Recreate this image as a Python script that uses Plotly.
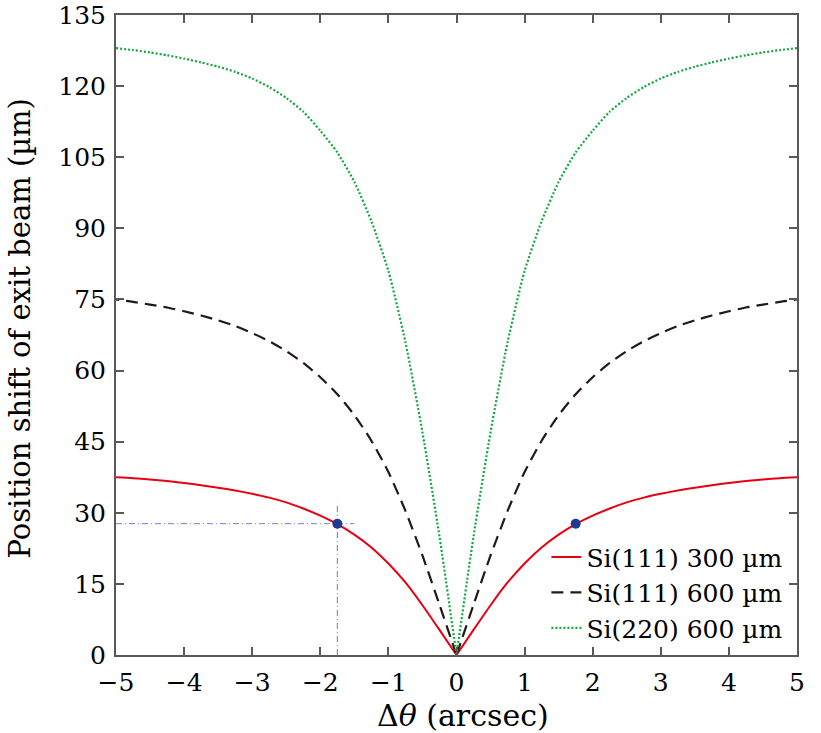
import plotly.graph_objects as go

# Read values (x >= 0 half and x <= 0 half), Δθ in arcsec, shift in µm
x_right = [0, 0.25, 0.5, 0.75, 1.0, 1.25, 1.5, 1.75, 2.0, 2.25, 2.5, 2.75, 3.0, 3.25, 3.5, 3.75, 4.0, 4.25, 4.5, 4.75, 5.0]
x_left = [0, -0.25, -0.5, -0.75, -1.0, -1.25, -1.5, -1.75, -2.0, -2.25, -2.5, -2.75, -3.0, -3.25, -3.5, -3.75, -4.0, -4.25, -4.5, -4.75, -5.0]

si111_300 = [0, 5.3, 10.5, 15.3, 19.3, 22.7, 25.4, 27.6, 29.4, 30.9, 32.2, 33.2, 34.0, 34.7, 35.3, 35.8, 36.3, 36.7, 37.0, 37.3, 37.5]
si111_600 = [0, 10.6, 21.0, 30.4, 38.6, 45.2, 50.6, 55.0, 58.6, 61.6, 64.1, 66.2, 67.9, 69.4, 70.6, 71.6, 72.5, 73.3, 73.9, 74.5, 75.0]
si220_600 = [0, 25.0, 47.0, 66.0, 81.0, 91.5, 99.8, 106.0, 110.6, 114.6, 117.5, 119.8, 121.6, 123.0, 124.1, 125.0, 125.8, 126.5, 127.1, 127.6, 128.0]

marker_x = [-1.75, 1.75]
marker_y = [27.7, 27.7]

guide_h_x = [-5, -1.5]
guide_h_y = [27.7, 27.7]
guide_v_x = [-1.75, -1.75]
guide_v_y = [0, 32.1]

x_ticks = [-5, -4, -3, -2, -1, 0, 1, 2, 3, 4, 5]
x_ticktext = ["\u22125", "\u22124", "\u22123", "\u22122", "\u22121", "0", "1", "2", "3", "4", "5"]
y_ticks = [0, 15, 30, 45, 60, 75, 90, 105, 120, 135]

x_title = "\u0394<i>\u03b8</i> (arcsec)"
y_title = "Position shift of exit beam (\u00b5m)"

names = ["Si(111) 300 \u00b5m", "Si(111) 600 \u00b5m", "Si(220) 600 \u00b5m"]
series = [si111_300, si111_600, si220_600]
colors = ["#e60012", "#231815", "#11a83a"]
dashes = ["solid", "12px,7px", "2px,2px"]
widths = [2.0, 2.2, 2.2]

FONT = "DejaVu Serif"

fig = go.Figure()

fig.add_trace(go.Scatter(x=guide_h_x, y=guide_h_y, mode="lines", showlegend=False,
                         line=dict(color="rgba(70,90,200,0.75)", width=1, dash="6px,3px,1px,3px")))
fig.add_trace(go.Scatter(x=guide_v_x, y=guide_v_y, mode="lines", showlegend=False,
                         line=dict(color="rgba(90,100,170,0.85)", width=1, dash="6px,3px,1px,3px")))

for name, ys, c, d, w in zip(names, series, colors, dashes, widths):
    fig.add_trace(go.Scatter(x=x_right, y=ys, mode="lines", name=name, showlegend=True,
                             line=dict(color=c, width=w, dash=d, shape="spline", smoothing=0.6)))
    fig.add_trace(go.Scatter(x=x_left, y=ys, mode="lines", name=name, showlegend=False,
                             line=dict(color=c, width=w, dash=d, shape="spline", smoothing=0.6)))

fig.add_trace(go.Scatter(x=marker_x, y=marker_y, mode="markers", showlegend=False,
                         marker=dict(color="#1f3a93", size=10)))

axis_common = dict(
    showgrid=False, zeroline=False, showline=True, linecolor="#595959", linewidth=2,
    mirror="allticks", ticks="inside", ticklen=8, tickwidth=1.6, tickcolor="#595959",
    tickfont=dict(family=FONT, size=25, color="black"), ticklabeloverflow="allow",
)

fig.update_layout(
    width=821, height=733,
    margin=dict(l=116, r=24, t=15, b=78, autoexpand=False),
    paper_bgcolor="white", plot_bgcolor="white",
    font=dict(family=FONT, color="black"),
    xaxis=dict(range=[-5, 5], tickvals=x_ticks, ticktext=x_ticktext, ticklabelstandoff=4, **axis_common),
    yaxis=dict(range=[0, 135], tickvals=y_ticks, ticklabelstandoff=3, **axis_common),
    legend=dict(x=0.632, y=0.006, xanchor="left", yanchor="bottom", bgcolor="rgba(0,0,0,0)",
                borderwidth=0, font=dict(family=FONT, size=25, color="black"), tracegroupgap=0),
    annotations=[
        dict(text=x_title, xref="paper", yref="paper", x=0.51, y=-0.094,
             xanchor="center", yanchor="middle", showarrow=False,
             font=dict(family=FONT, size=30, color="black")),
        dict(text=y_title, xref="paper", yref="paper", x=-0.141, y=0.51,
             xanchor="center", yanchor="middle", showarrow=False, textangle=-90,
             font=dict(family=FONT, size=29, color="black")),
    ],
)

fig.write_html("out.html")
